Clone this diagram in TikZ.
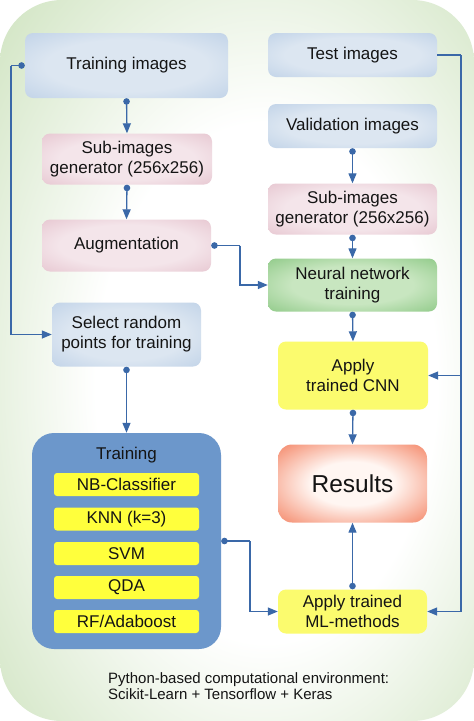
\documentclass[tikz,border=0pt]{standalone}
\usepackage{fontspec}
\setmainfont{Liberation Sans}
\usetikzlibrary{arrows.meta}
\definecolor{bggreen}{HTML}{9CC67D}
\definecolor{blueIn}{HTML}{DCE6F1}
\definecolor{blueOut}{HTML}{AAC3E0}
\definecolor{pinkIn}{HTML}{F4E5EA}
\definecolor{pinkOut}{HTML}{DCAEBC}
\definecolor{greenIn}{HTML}{C8E6C0}
\definecolor{greenOut}{HTML}{66B55F}
\definecolor{resIn}{HTML}{FFF6F2}
\definecolor{resOut}{HTML}{EE4A1C}
\definecolor{yel}{HTML}{FBFB6E}
\definecolor{yelItem}{HTML}{FFFF3C}
\definecolor{trBlue}{HTML}{6C97CB}
\definecolor{lineBlue}{HTML}{3A68A8}
\definecolor{txt}{HTML}{141414}
\pgfdeclareradialshading{bgshade}{\pgfpoint{4bp}{-2bp}}{color(0bp)=(white); color(18bp)=(white); color(60bp)=(bggreen); color(80bp)=(bggreen)}
\pgfdeclareradialshading{blueshade}{\pgfpointorigin}{color(0bp)=(blueIn); color(20bp)=(blueIn); color(50bp)=(blueOut); color(75bp)=(blueOut)}
\pgfdeclareradialshading{pinkshade}{\pgfpointorigin}{color(0bp)=(pinkIn); color(20bp)=(pinkIn); color(50bp)=(pinkOut); color(75bp)=(pinkOut)}
\pgfdeclareradialshading{greenshade}{\pgfpointorigin}{color(0bp)=(greenIn); color(18bp)=(greenIn); color(50bp)=(greenOut); color(75bp)=(greenOut)}
\pgfdeclareradialshading{resshade}{\pgfpointorigin}{color(0bp)=(resIn); color(14bp)=(resIn); color(48bp)=(resOut); color(75bp)=(resOut)}
\tikzset{
  boxtext/.style={font=\fontsize{17}{20}\selectfont, text=txt, align=center, inner sep=0pt},
  bluebox/.style={boxtext, shade, shading=blueshade, rounded corners=8},
  pinkbox/.style={boxtext, shade, shading=pinkshade, rounded corners=8},
  greenbox/.style={boxtext, shade, shading=greenshade, rounded corners=8},
  yelbox/.style={boxtext, fill=yel, rounded corners=8},
  itembox/.style={boxtext, fill=yelItem, rounded corners=3, minimum width=145, minimum height=23},
  conn/.style={draw=lineBlue, line width=1.3pt, -{Triangle[length=10pt,width=8pt]}},
  dconn/.style={draw=lineBlue, line width=1.3pt, {Circle[length=6.5pt]}-{Triangle[length=10pt,width=8pt]}},
  dline/.style={draw=lineBlue, line width=1.3pt, {Circle[length=6.5pt]}-},
  pline/.style={draw=lineBlue, line width=1.3pt}
}
\begin{document}
\begin{tikzpicture}[x=1pt,y=-1pt]
\useasboundingbox (0,0) rectangle (474,721);
\fill[white] (0,0) rectangle (474,721);
\shade[shading=bgshade, rounded corners=62] (0,0) rectangle (474,721);

% left column
\node[bluebox, minimum width=203, minimum height=65] (ti) at (126.5,65.5) {Training images};
\node[pinkbox, minimum width=170, minimum height=51] (sl) at (127,159) {Sub-images\\generator (256x256)};
\node[pinkbox, minimum width=169, minimum height=52] (aug) at (126.5,245.5) {Augmentation};
\node[bluebox, minimum width=149, minimum height=64] (sel) at (126.5,334.5) {Select random\\points for training};
\node[fill=trBlue, rounded corners=22, minimum width=189, minimum height=216, inner sep=0pt] (tr) at (126.5,541) {};
\node[boxtext] (trt) at (126.5,455.5) {Training};
\node[itembox] (nb) at (126.5,484.5) {NB-Classifier};
\node[itembox] (knn) at (126.5,519) {KNN (k=3)};
\node[itembox] (svm) at (126.5,553.5) {SVM};
\node[itembox] (qda) at (126.5,587.5) {QDA};
\node[itembox] (rf) at (126.5,621.5) {RF/Adaboost};

% right column
\node[bluebox, minimum width=169, minimum height=44] (test) at (352.5,55) {Test images};
\node[bluebox, minimum width=169, minimum height=44] (val) at (352.5,126) {Validation images};
\node[pinkbox, minimum width=169, minimum height=51] (sr) at (352.5,209) {Sub-images\\generator (256x256)};
\node[greenbox, minimum width=169, minimum height=53] (nn) at (352.5,285) {Neural network\\training};
\node[yelbox, minimum width=150, minimum height=68] (cnn) at (353,375.5) {Apply\\trained CNN};
\node[boxtext, shade, shading=resshade, rounded corners=14, minimum width=149, minimum height=78, font=\fontsize{24.5}{28}\selectfont] (res) at (352.5,483.5) {Results};
\node[yelbox, minimum width=149, minimum height=44] (ml) at (352.5,611.5) {Apply trained\\ML-methods};

\node[anchor=west, align=left, inner sep=0pt, text=txt, font=\fontsize{15}{16}\selectfont] (note) at (108,686) {Python-based computational environment:\\Scikit-Learn + Tensorflow + Keras};

% junction points
\coordinate (lp) at (11,65.5);
\coordinate (j1) at (240,245.5);
\coordinate (j2) at (250,541);
\coordinate (rp) at (461,55);
\coordinate (rb) at (461,375.5);

% connectors
\draw[dconn] (ti.south) -- (sl.north);
\draw[dconn] (sl.south) -- (aug.north);
\draw[dconn] (sel.south) -- (tr.north);
\draw[dline] (ti.west) -- (lp);
\draw[conn] (lp) |- (sel.west);
\draw[dline] (aug.east) -- (j1);
\draw[conn] (j1) |- (nn.west);
\draw[dline] (tr.east) -- (j2);
\draw[conn] (j2) |- (ml.west);

\draw[dconn] (val.south) -- (sr.north);
\draw[dconn] (sr.south) -- (nn.north);
\draw[dconn] (nn.south) -- (cnn.north);
\draw[dconn] (cnn.south) -- (res.north);
\draw[dconn] (ml.north) -- (res.south);
\draw[pline] (test.east) -- (rp);
\draw[conn] (rp) |- (ml.east);
\draw[conn] (rb) -- (cnn.east);
\end{tikzpicture}
\end{document}
